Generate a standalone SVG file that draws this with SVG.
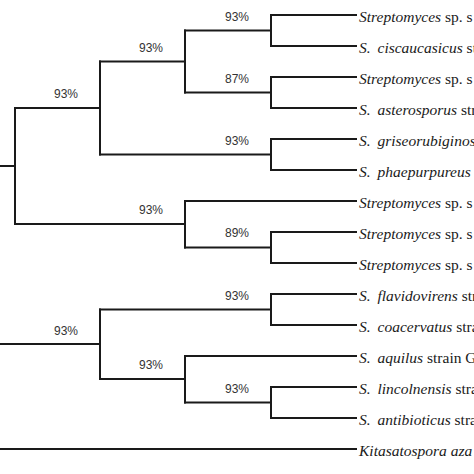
<svg xmlns="http://www.w3.org/2000/svg" width="474" height="474" viewBox="0 0 474 474">
<style>
.br{fill:none;stroke:#1a1a1a;stroke-width:2;stroke-linecap:square}
.bs{font-family:"Liberation Sans",Arial,sans-serif;font-size:12px;fill:#333;text-anchor:middle}
.lf{font-family:"Liberation Serif","Times New Roman",serif;font-size:15.5px;fill:#1a1a1a}
.i{font-style:italic}
</style>
<rect width="474" height="474" fill="#fff"/>
<g id="connectors">
<path class="br" d="M0,166H15M15,108V224"/>
<path class="br" d="M15,108H100M100,61.5V154.5"/>
<path class="br" d="M100,61.5H185M185,30.5V92.5"/>
<path class="br" d="M185,30.5H271M271,15V46M271,15H356M271,46H356"/>
<path class="br" d="M185,92.5H271M271,77V108M271,77H356M271,108H356"/>
<path class="br" d="M100,154.5H271M271,139V170M271,139H356M271,170H356"/>
<path class="br" d="M15,224H185M185,201V247.5M185,201H356"/>
<path class="br" d="M185,247.5H271M271,232V263M271,232H356M271,263H356"/>
<path class="br" d="M0,344H100M100,309.5V379"/>
<path class="br" d="M100,309.5H271M271,294V325M271,294H356M271,325H356"/>
<path class="br" d="M100,379H185M185,356V402.5M185,356H356"/>
<path class="br" d="M185,402.5H271M271,387V418M271,387H356M271,418H356"/>
<path class="br" d="M0,449H356"/>
</g>
<g id="support-labels">
<g id="n-A"><text class="bs" x="237" y="21">93%</text></g>
<g id="n-C"><text class="bs" x="151" y="52">93%</text></g>
<g id="n-B"><text class="bs" x="237" y="83">87%</text></g>
<g id="n-E"><text class="bs" x="66" y="98">93%</text></g>
<g id="n-D"><text class="bs" x="237" y="145">93%</text></g>
<g id="n-G"><text class="bs" x="151" y="214">93%</text></g>
<g id="n-F"><text class="bs" x="237" y="237">89%</text></g>
<g id="n-L"><text class="bs" x="66" y="335">93%</text></g>
<g id="n-I"><text class="bs" x="237" y="300">93%</text></g>
<g id="n-K"><text class="bs" x="151" y="369">93%</text></g>
<g id="n-J"><text class="bs" x="237" y="393">93%</text></g>
</g>
<g id="leaf-1"><text class="lf" x="359" y="22"><tspan class="i">Streptomyces</tspan> sp. s</text></g>
<g id="leaf-2"><text class="lf" x="359" y="53"><tspan class="i">S.</tspan> <tspan class="i" dx="3">ciscaucasicus</tspan> st</text></g>
<g id="leaf-3"><text class="lf" x="359" y="84"><tspan class="i">Streptomyces</tspan> sp. s</text></g>
<g id="leaf-4"><text class="lf" x="359" y="115"><tspan class="i">S.</tspan> <tspan class="i" dx="3">asterosporus</tspan> str.</text></g>
<g id="leaf-5"><text class="lf" x="359" y="146"><tspan class="i">S.</tspan> <tspan class="i" dx="3">griseorubiginos</tspan></text></g>
<g id="leaf-6"><text class="lf" x="359" y="177"><tspan class="i">S.</tspan> <tspan class="i" dx="3">phaepurpureus</tspan> s</text></g>
<g id="leaf-7"><text class="lf" x="359" y="208"><tspan class="i">Streptomyces</tspan> sp. s</text></g>
<g id="leaf-8"><text class="lf" x="359" y="239"><tspan class="i">Streptomyces</tspan> sp. s</text></g>
<g id="leaf-9"><text class="lf" x="359" y="270"><tspan class="i">Streptomyces</tspan> sp. s</text></g>
<g id="leaf-10"><text class="lf" x="359" y="301"><tspan class="i">S.</tspan> <tspan class="i" dx="3">flavidovirens</tspan> str</text></g>
<g id="leaf-11"><text class="lf" x="359" y="332"><tspan class="i">S.</tspan> <tspan class="i" dx="3">coacervatus</tspan> stra</text></g>
<g id="leaf-12"><text class="lf" x="359" y="363"><tspan class="i">S.</tspan> <tspan class="i" dx="3">aquilus</tspan> strain G</text></g>
<g id="leaf-13"><text class="lf" x="359" y="394"><tspan class="i">S.</tspan> <tspan class="i" dx="3">lincolnensis</tspan> stra</text></g>
<g id="leaf-14"><text class="lf" x="359" y="425"><tspan class="i">S.</tspan> <tspan class="i" dx="3">antibioticus</tspan> stra</text></g>
<g id="leaf-15"><text class="lf" x="359" y="456"><tspan class="i">Kitasatospora aza</tspan></text></g>
</svg>
